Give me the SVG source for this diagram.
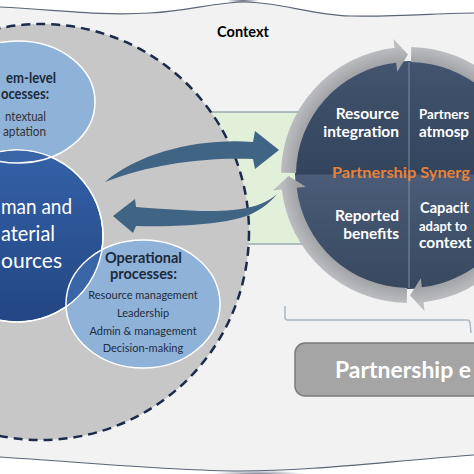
<svg xmlns="http://www.w3.org/2000/svg" width="474" height="474" viewBox="0 0 474 474">
<defs>
<style>
.t{font-family:Lato,"Liberation Sans",sans-serif}
.b{font-weight:bold}
.hd{font-size:14.5px;fill:#1c2a3c;font-weight:bold}
.sm{font-size:11px;fill:#1f2d3f}
.ctx{font-size:12.5px;fill:#333333}
.cy{font-size:15.5px;fill:#ffffff;font-weight:bold}
.hum{font-size:22px;fill:#ffffff}
.lb{fill:#8fb2d8;stroke:#ffffff;stroke-width:1.5}
.ov{fill:#3a66a8;stroke:#ffffff;stroke-width:1.5}
.arr{fill:#406483}
</style>
<radialGradient id="ringG" gradientUnits="userSpaceOnUse" cx="409" cy="175" r="137">
<stop offset="0.82" stop-color="#a0a2a6"/>
<stop offset="0.94" stop-color="#bcbec1"/>
</radialGradient>
<linearGradient id="topG" gradientUnits="userSpaceOnUse" x1="0" y1="62" x2="0" y2="175">
<stop offset="0" stop-color="#42546e"/>
<stop offset="1" stop-color="#33445d"/>
</linearGradient>
<linearGradient id="botG" gradientUnits="userSpaceOnUse" x1="0" y1="175" x2="0" y2="288">
<stop offset="0" stop-color="#4a5c77"/>
<stop offset="1" stop-color="#37485f"/>
</linearGradient>
<linearGradient id="humG" x1="0" y1="0" x2="0" y2="1">
<stop offset="0" stop-color="#3461a6"/>
<stop offset="1" stop-color="#234684"/>
</linearGradient>
<radialGradient id="shd">
<stop offset="0" stop-color="#5a6070" stop-opacity="0.9"/>
<stop offset="1" stop-color="#5a6070" stop-opacity="0"/>
</radialGradient>
<clipPath id="humClip"><circle cx="17" cy="236" r="86"/></clipPath>
<path id="ringArc" d="M281.02,172.77 A128,128 0 0 1 394.51,47.82 L393.49,38.88 L407.95,54.5 L397.23,71.67 L396.21,62.73 A113,113 0 0 0 296.02,173.03 Z" fill="url(#ringG)"/>
</defs>

<rect x="0" y="0" width="474" height="474" fill="#ffffff"/>
<ellipse cx="243" cy="0" rx="16" ry="5" fill="url(#shd)"/>
<ellipse cx="258" cy="475" rx="48" ry="5" fill="url(#shd)"/>

<g id="context">
<path d="M0,7 C60,10 100,16 150,13 C190,11 215,2 245,2 C280,2 310,15 350,16 C400,17 440,13 474,13 L474,455 C380,462 310,471 240,471 C170,471 80,462 0,457 Z" fill="#f2f2f2"/>
<path d="M0,7 C60,10 100,16 150,13 C190,11 215,2 245,2 C280,2 310,15 350,16 C400,17 440,13 474,13" fill="none" stroke="#5b6577" stroke-width="1.2"/>
<path d="M0,457 C80,462 170,471 240,471 C310,471 380,462 474,455" fill="none" stroke="#5b6577" stroke-width="1.2"/>
<text class="t b" x="243" y="37" font-size="14.5" text-anchor="middle" fill="#000000">Context</text>
</g>

<g id="interface">
<rect x="200" y="112" width="130" height="132" fill="#e2efd9" stroke="#98aab0" stroke-width="1.5"/>
</g>

<g id="organisation">
<circle cx="41" cy="232" r="208" fill="#c7c7c7" stroke="#1c2b4a" stroke-width="2.5" stroke-dasharray="9 6"/>
</g>

<g id="system-level">
<ellipse class="lb" cx="18" cy="102" rx="77" ry="61"/>
<text class="t hd" x="6" y="83" textLength="50" lengthAdjust="spacingAndGlyphs">em-level</text>
<text class="t hd" x="1" y="99" textLength="48" lengthAdjust="spacingAndGlyphs">ocesses:</text>
<text class="t ctx" x="5" y="121" textLength="41" lengthAdjust="spacingAndGlyphs">ntextual</text>
<text class="t ctx" x="3" y="136" textLength="43" lengthAdjust="spacingAndGlyphs">aptation</text>
</g>

<g id="operational">
<ellipse class="lb" cx="143" cy="304" rx="77" ry="64"/>
</g>

<g id="human-resources">
<circle cx="17" cy="236" r="86" fill="url(#humG)" stroke="#ffffff" stroke-width="1.5"/>
<g clip-path="url(#humClip)">
<ellipse class="ov" cx="18" cy="102" rx="77" ry="61"/>
<ellipse class="ov" cx="143" cy="304" rx="77" ry="64"/>
</g>
<circle cx="17" cy="236" r="86" fill="none" stroke="#ffffff" stroke-width="1.2"/>
<text class="t hum" x="1" y="214" textLength="71" lengthAdjust="spacingAndGlyphs">man and</text>
<text class="t hum" x="1" y="241" textLength="54" lengthAdjust="spacingAndGlyphs">aterial</text>
<text class="t hum" x="1" y="268" textLength="61" lengthAdjust="spacingAndGlyphs">ources</text>
</g>

<g id="operational-text">
<text class="t hd" x="143.5" y="263" text-anchor="middle">Operational</text>
<text class="t hd" x="143.5" y="279" text-anchor="middle">processes:</text>
<text class="t sm" x="143" y="299" text-anchor="middle">Resource management</text>
<text class="t sm" x="143" y="317" text-anchor="middle">Leadership</text>
<text class="t sm" x="143" y="335" text-anchor="middle">Admin &amp; management</text>
<text class="t sm" x="143" y="352" text-anchor="middle">Decision-making</text>
</g>

<g id="connectors">
<path class="arr" d="M105,182 C140,152 200,138 253,142 L255,131 L279,150 L255,169 L253,159 C205,157 150,164 105,182 Z"/>
<path class="arr" d="M277,194 C262,207 240,212 200,211 C175,210 150,208 136,207 L135,199 L113,216 L133,233 L136,226 C170,227 215,225 240,218 C258,213 270,203 277,194 Z"/>
</g>

<g id="partnership-synergy">
<path d="M295,175 A114,114 0 0 1 523,175 Z" fill="url(#topG)"/>
<path d="M295,175 A114,114 0 0 0 523,175 Z" fill="url(#botG)"/>
<line x1="409" y1="62" x2="409" y2="288" stroke="#7f8ea3" stroke-width="1"/>
<line x1="296" y1="175" x2="522" y2="175" stroke="#4e607b" stroke-width="0.8"/>
<use href="#ringArc"/>
<use href="#ringArc" transform="rotate(90 409 175)"/>
<use href="#ringArc" transform="rotate(180 409 175)"/>
<use href="#ringArc" transform="rotate(270 409 175)"/>
<text class="t cy" x="399" y="119" text-anchor="end">Resource</text>
<text class="t cy" x="399" y="137" text-anchor="end">integration</text>
<text class="t cy" x="419" y="119" font-size="14" style="font-size:14px" textLength="50" lengthAdjust="spacingAndGlyphs">Partners</text>
<text class="t cy" x="419" y="137" textLength="50" lengthAdjust="spacingAndGlyphs">atmosp</text>
<text class="t b" x="332" y="178" font-size="16" fill="#e8823a" textLength="138" lengthAdjust="spacingAndGlyphs">Partnership Synerg</text>
<text class="t cy" x="399" y="221" text-anchor="end">Reported</text>
<text class="t cy" x="399" y="239" text-anchor="end">benefits</text>
<text class="t cy" x="420" y="213" textLength="49" lengthAdjust="spacingAndGlyphs">Capacit</text>
<text class="t cy" x="419" y="231" style="font-size:14px" textLength="48" lengthAdjust="spacingAndGlyphs">adapt to</text>
<text class="t cy" x="419" y="248">context</text>
</g>

<g id="bracket">
<path d="M285,306 L285,317 Q285,320 288,320 L467,320 Q470,320 470,323 L471,333" fill="none" stroke="#a8b8c8" stroke-width="1.5"/>
</g>

<g id="partnership-effectiveness">
<rect x="295" y="343" width="200" height="53" rx="10" fill="#a5a5a5" stroke="#7a7a7a" stroke-width="1.5"/>
<text class="t b" x="335" y="378" font-size="23" fill="#ffffff" textLength="136" lengthAdjust="spacingAndGlyphs">Partnership e</text>
</g>
</svg>
